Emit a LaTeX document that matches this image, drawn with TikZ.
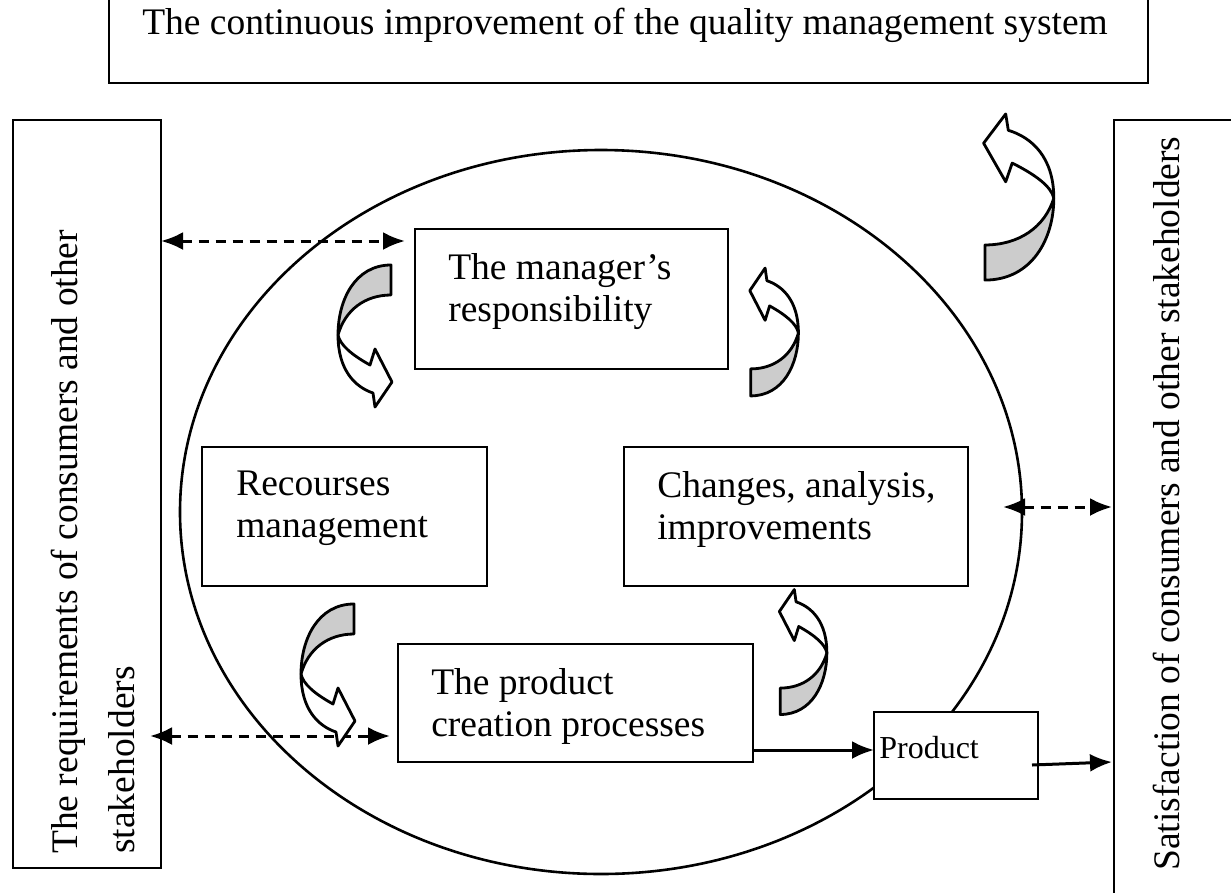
\documentclass[tikz,border=0pt]{standalone}
\usepackage{fontspec}
\setmainfont{Liberation Serif}
\usetikzlibrary{arrows.meta}
\begin{document}
\begin{tikzpicture}[x=1pt,y=-1pt,line width=2.6pt,
  bx/.style={draw,line width=2.6pt},
  lbl/.style={font=\fontsize{37.5}{42}\selectfont,align=left,anchor=north west,inner sep=0},
  dda/.style={line width=3pt,dash pattern=on 10pt off 7pt,{Latex[length=22pt,width=18pt]}-{Latex[length=22pt,width=18pt]}},
  sa/.style={line width=3pt,-{Latex[length=22pt,width=18pt]}},
  curv/.pic={
    \draw[line width=2.8pt,fill=gray!40,line join=round] (27,-71) .. controls (-9,-71) and (-26,-36) .. (-26,-1) .. controls (-19,-26) and (1,-41) .. (27,-41) -- cycle;
    \draw[line width=2.8pt,fill=white,line join=round] (-26,-1) .. controls (-26,34) and (-9,51) .. (9,57) -- (11,71) -- (28,46) -- (11,13) -- (6,29) .. controls (-12,19) and (-24,9) .. (-26,-1) -- cycle;
  }]
\useasboundingbox (0,0) rectangle (1231,892);
\draw[bx] (109,-5) -- (109,83) -- (1148,83) -- (1148,-5);
\node[font=\fontsize{37.5}{42}\selectfont] (t) at (625,25) {The continuous improvement of the quality management system};
\draw[bx] (13,120) rectangle (161,868);
\node[lbl,rotate=90,anchor=north west,font=\fontsize{37.5}{57}\selectfont] (lt) at (50,855) {The requirements of consumers and other\\stakeholders};
\draw[bx] (1235,120) -- (1114,120) -- (1114,897);
\node[lbl,rotate=90,anchor=north west] (rt) at (1152,872) {Satisfaction of consumers and other stakeholders};
\draw (601,512) ellipse [x radius=421, y radius=362];
\node[bx,minimum width=313,minimum height=140] (m) at (571.5,299) {};
\node[lbl] at (447,252) {The manager’s\\responsibility};
\node[bx,minimum width=285,minimum height=139] (r) at (344.5,516.5) {};
\node[lbl] at (235,470) {Recourses\\management};
\node[bx,minimum width=344,minimum height=139] (c) at (796,516.5) {};
\node[lbl] at (656,470) {Changes, analysis,\\improvements};
\node[bx,minimum width=355,minimum height=118] (p) at (575.5,703) {};
\node[lbl] at (430,667) {The product\\creation processes};
\node[bx,fill=white,minimum width=164,minimum height=87] (pr) at (956,755.5) {};
\node[lbl,font=\fontsize{32}{36}\selectfont] at (878,735) {Product};
\coordinate (a1) at (161,241); \coordinate (a2) at (405,241);
\draw[dda] (a1) -- (a2);
\coordinate (b1) at (150,736); \coordinate (b2) at (390,736);
\draw[dda] (b1) -- (b2);
\coordinate (c1) at (1003,507); \coordinate (c2) at (1112,507);
\draw[dda] (c1) -- (c2);
\coordinate (d1) at (753,750); \coordinate (d2) at (874,750);
\draw[sa] (d1) -- (d2);
\coordinate (e1) at (1032,765); \coordinate (e2) at (1112,762);
\draw[sa] (e1) -- (e2);
\pic at (364,336) {curv};
\pic at (327,675) {curv};
\pic[rotate=180,scale=0.9] at (775,332) {curv};
\pic[rotate=180,scale=0.88] at (804,652) {curv};
\pic[rotate=180,xscale=1.3,yscale=1.17] at (1020,197) {curv};
\end{tikzpicture}
\end{document}
